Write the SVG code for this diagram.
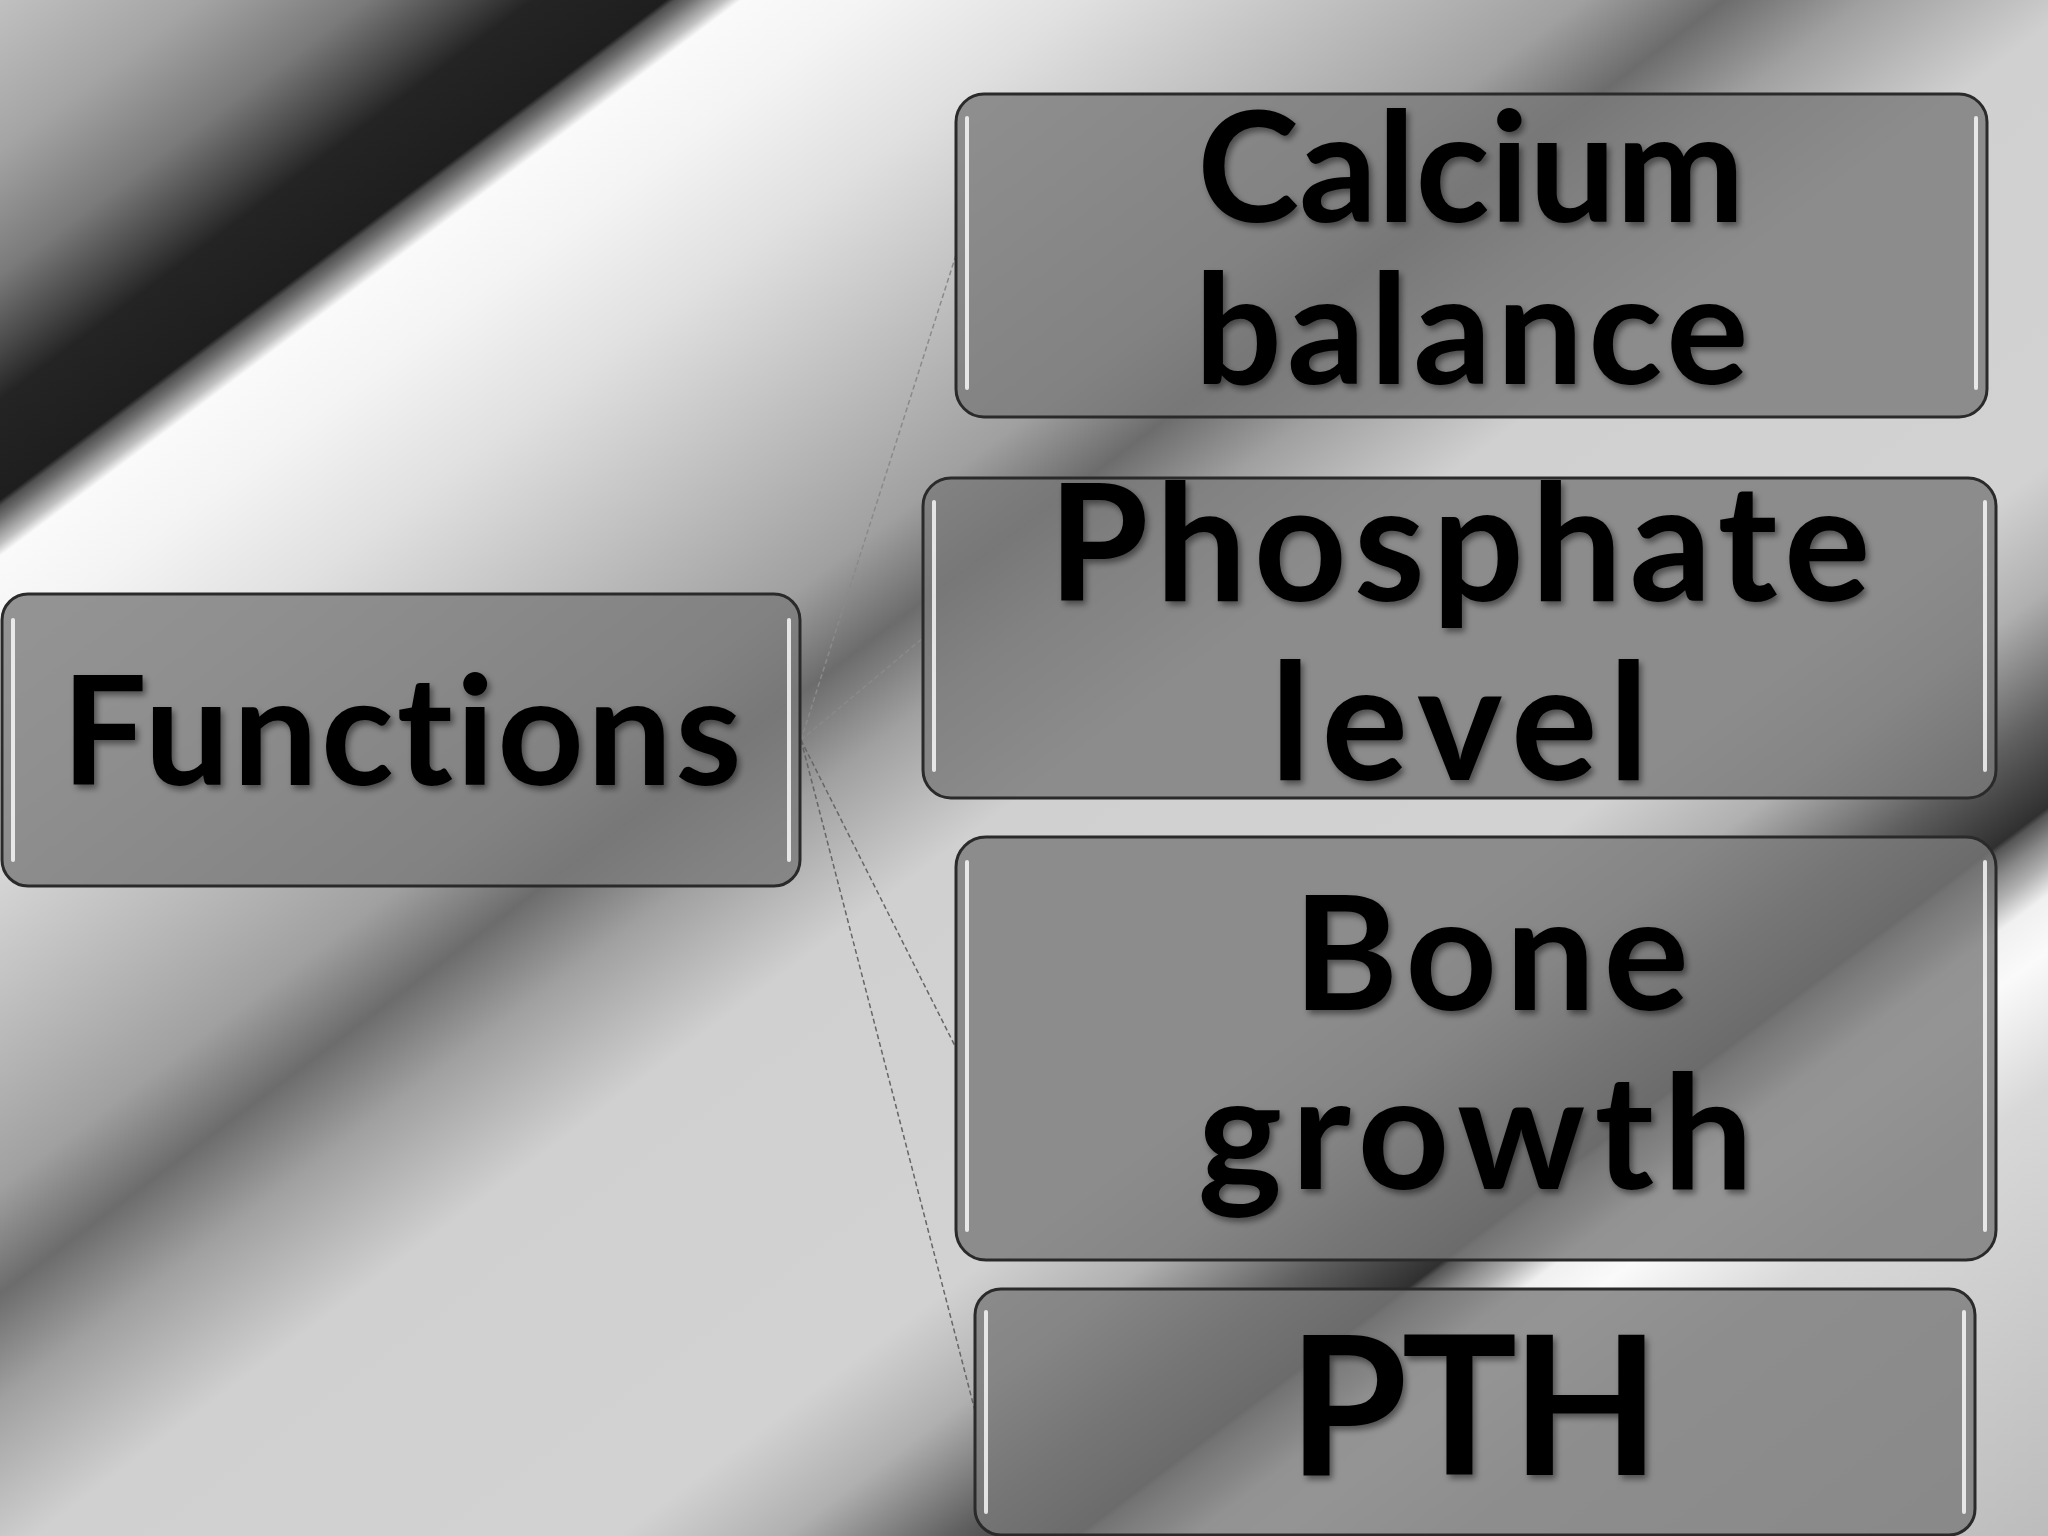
<svg xmlns="http://www.w3.org/2000/svg" width="2048" height="1536" viewBox="0 0 2048 1536">
  <defs>
    <linearGradient id="bg" gradientUnits="userSpaceOnUse" x1="0" y1="0" x2="1475" y2="1966">
      <stop offset="0" stop-color="#c0c0c0"/>
      <stop offset="0.0488" stop-color="#a4a4a4"/>
      <stop offset="0.0895" stop-color="#7a7a7a"/>
      <stop offset="0.1139" stop-color="#484848"/>
      <stop offset="0.1302" stop-color="#242424"/>
      <stop offset="0.1627" stop-color="#1e1e1e"/>
      <stop offset="0.1648" stop-color="#505050"/>
      <stop offset="0.1688" stop-color="#707070"/>
      <stop offset="0.1729" stop-color="#999999"/>
      <stop offset="0.1770" stop-color="#c0c0c0"/>
      <stop offset="0.1810" stop-color="#fafafa"/>
      <stop offset="0.2116" stop-color="#f4f4f4"/>
      <stop offset="0.2644" stop-color="#e0e0e0"/>
      <stop offset="0.3255" stop-color="#c0c0c0"/>
      <stop offset="0.3865" stop-color="#a0a0a0"/>
      <stop offset="0.4211" stop-color="#6c6c6c"/>
      <stop offset="0.4557" stop-color="#a0a0a0"/>
      <stop offset="0.5085" stop-color="#d0d0d0"/>
      <stop offset="0.6509" stop-color="#d2d2d2"/>
      <stop offset="0.6916" stop-color="#b0b0b0"/>
      <stop offset="0.7323" stop-color="#606060"/>
      <stop offset="0.7628" stop-color="#303030"/>
      <stop offset="0.7649" stop-color="#555555"/>
      <stop offset="0.7730" stop-color="#888888"/>
      <stop offset="0.7811" stop-color="#b0b0b0"/>
      <stop offset="0.7913" stop-color="#f0f0f0"/>
      <stop offset="0.8096" stop-color="#fafafa"/>
      <stop offset="0.8543" stop-color="#d8d8d8"/>
      <stop offset="1" stop-color="#bcbcbc"/>
    </linearGradient>
    <filter id="shadow" x="-10%" y="-10%" width="120%" height="130%">
      <feDropShadow dx="3" dy="4" stdDeviation="3" flood-color="#000000" flood-opacity="0.45"/>
    </filter>
  </defs>
  <style>
    .box { fill: #7a7a7a; fill-opacity: 0.8; stroke: #2a2a2a; stroke-width: 3; }
    .hl { stroke: #ffffff; stroke-width: 4; stroke-linecap: round; stroke-opacity: 0.8; fill: none; }
    .lbl { font-family: Lato, "Liberation Sans", sans-serif; font-weight: bold; fill: #000000; text-anchor: middle; font-variant-ligatures: none; font-feature-settings: "liga" 0; filter: url(#shadow); }
    .conn { stroke: #666666; stroke-width: 1.5; stroke-dasharray: 5 3; fill: none; }
    .conn.light { stroke: #8a8a8a; }
  </style>
  <rect x="0" y="0" width="2048" height="1536" fill="url(#bg)"/>

  <g id="connectors">
    <line class="conn light" x1="801" y1="740" x2="956" y2="255"/>
    <line class="conn light" x1="801" y1="740" x2="923" y2="638"/>
    <line class="conn" x1="801" y1="740" x2="956" y2="1048"/>
    <line class="conn" x1="801" y1="740" x2="975" y2="1411"/>
  </g>

  <g id="functions">
    <rect class="box" x="2" y="594" width="798" height="292" rx="26"/>
    <line class="hl" x1="13" y1="620" x2="13" y2="860"/>
    <line class="hl" x1="789" y1="620" x2="789" y2="860"/>
    <text class="lbl" x="403" y="785" font-size="151" letter-spacing="3">Functions</text>
  </g>

  <g id="calcium">
    <rect class="box" x="956" y="94" width="1031" height="323" rx="28"/>
    <line class="hl" x1="967" y1="118" x2="967" y2="388"/>
    <line class="hl" x1="1976" y1="118" x2="1976" y2="388"/>
    <text class="lbl" x="1471" y="222" font-size="154">Calcium</text>
    <text class="lbl" x="1474" y="384" font-size="154" letter-spacing="5">balance</text>
  </g>

  <g id="phosphate">
    <rect class="box" x="923" y="478" width="1073" height="320" rx="28"/>
    <line class="hl" x1="934" y1="502" x2="934" y2="770"/>
    <line class="hl" x1="1985" y1="502" x2="1985" y2="770"/>
    <text class="lbl" x="1463" y="601" font-size="162" letter-spacing="7">Phosphate</text>
    <text class="lbl" x="1465" y="780" font-size="162" letter-spacing="11">level</text>
  </g>

  <g id="bone">
    <rect class="box" x="956" y="837" width="1040" height="423" rx="30"/>
    <line class="hl" x1="967" y1="862" x2="967" y2="1230"/>
    <line class="hl" x1="1985" y1="862" x2="1985" y2="1230"/>
    <text class="lbl" x="1495" y="1010" font-size="160" letter-spacing="8">Bone</text>
    <text class="lbl" x="1480" y="1189" font-size="160" letter-spacing="9">growth</text>
  </g>

  <g id="pth">
    <rect class="box" x="975" y="1289" width="1000" height="246" rx="26"/>
    <line class="hl" x1="986" y1="1312" x2="986" y2="1512"/>
    <line class="hl" x1="1964" y1="1312" x2="1964" y2="1512"/>
    <text class="lbl" x="1471" y="1475" font-size="193" letter-spacing="-6">PTH</text>
  </g>
</svg>
